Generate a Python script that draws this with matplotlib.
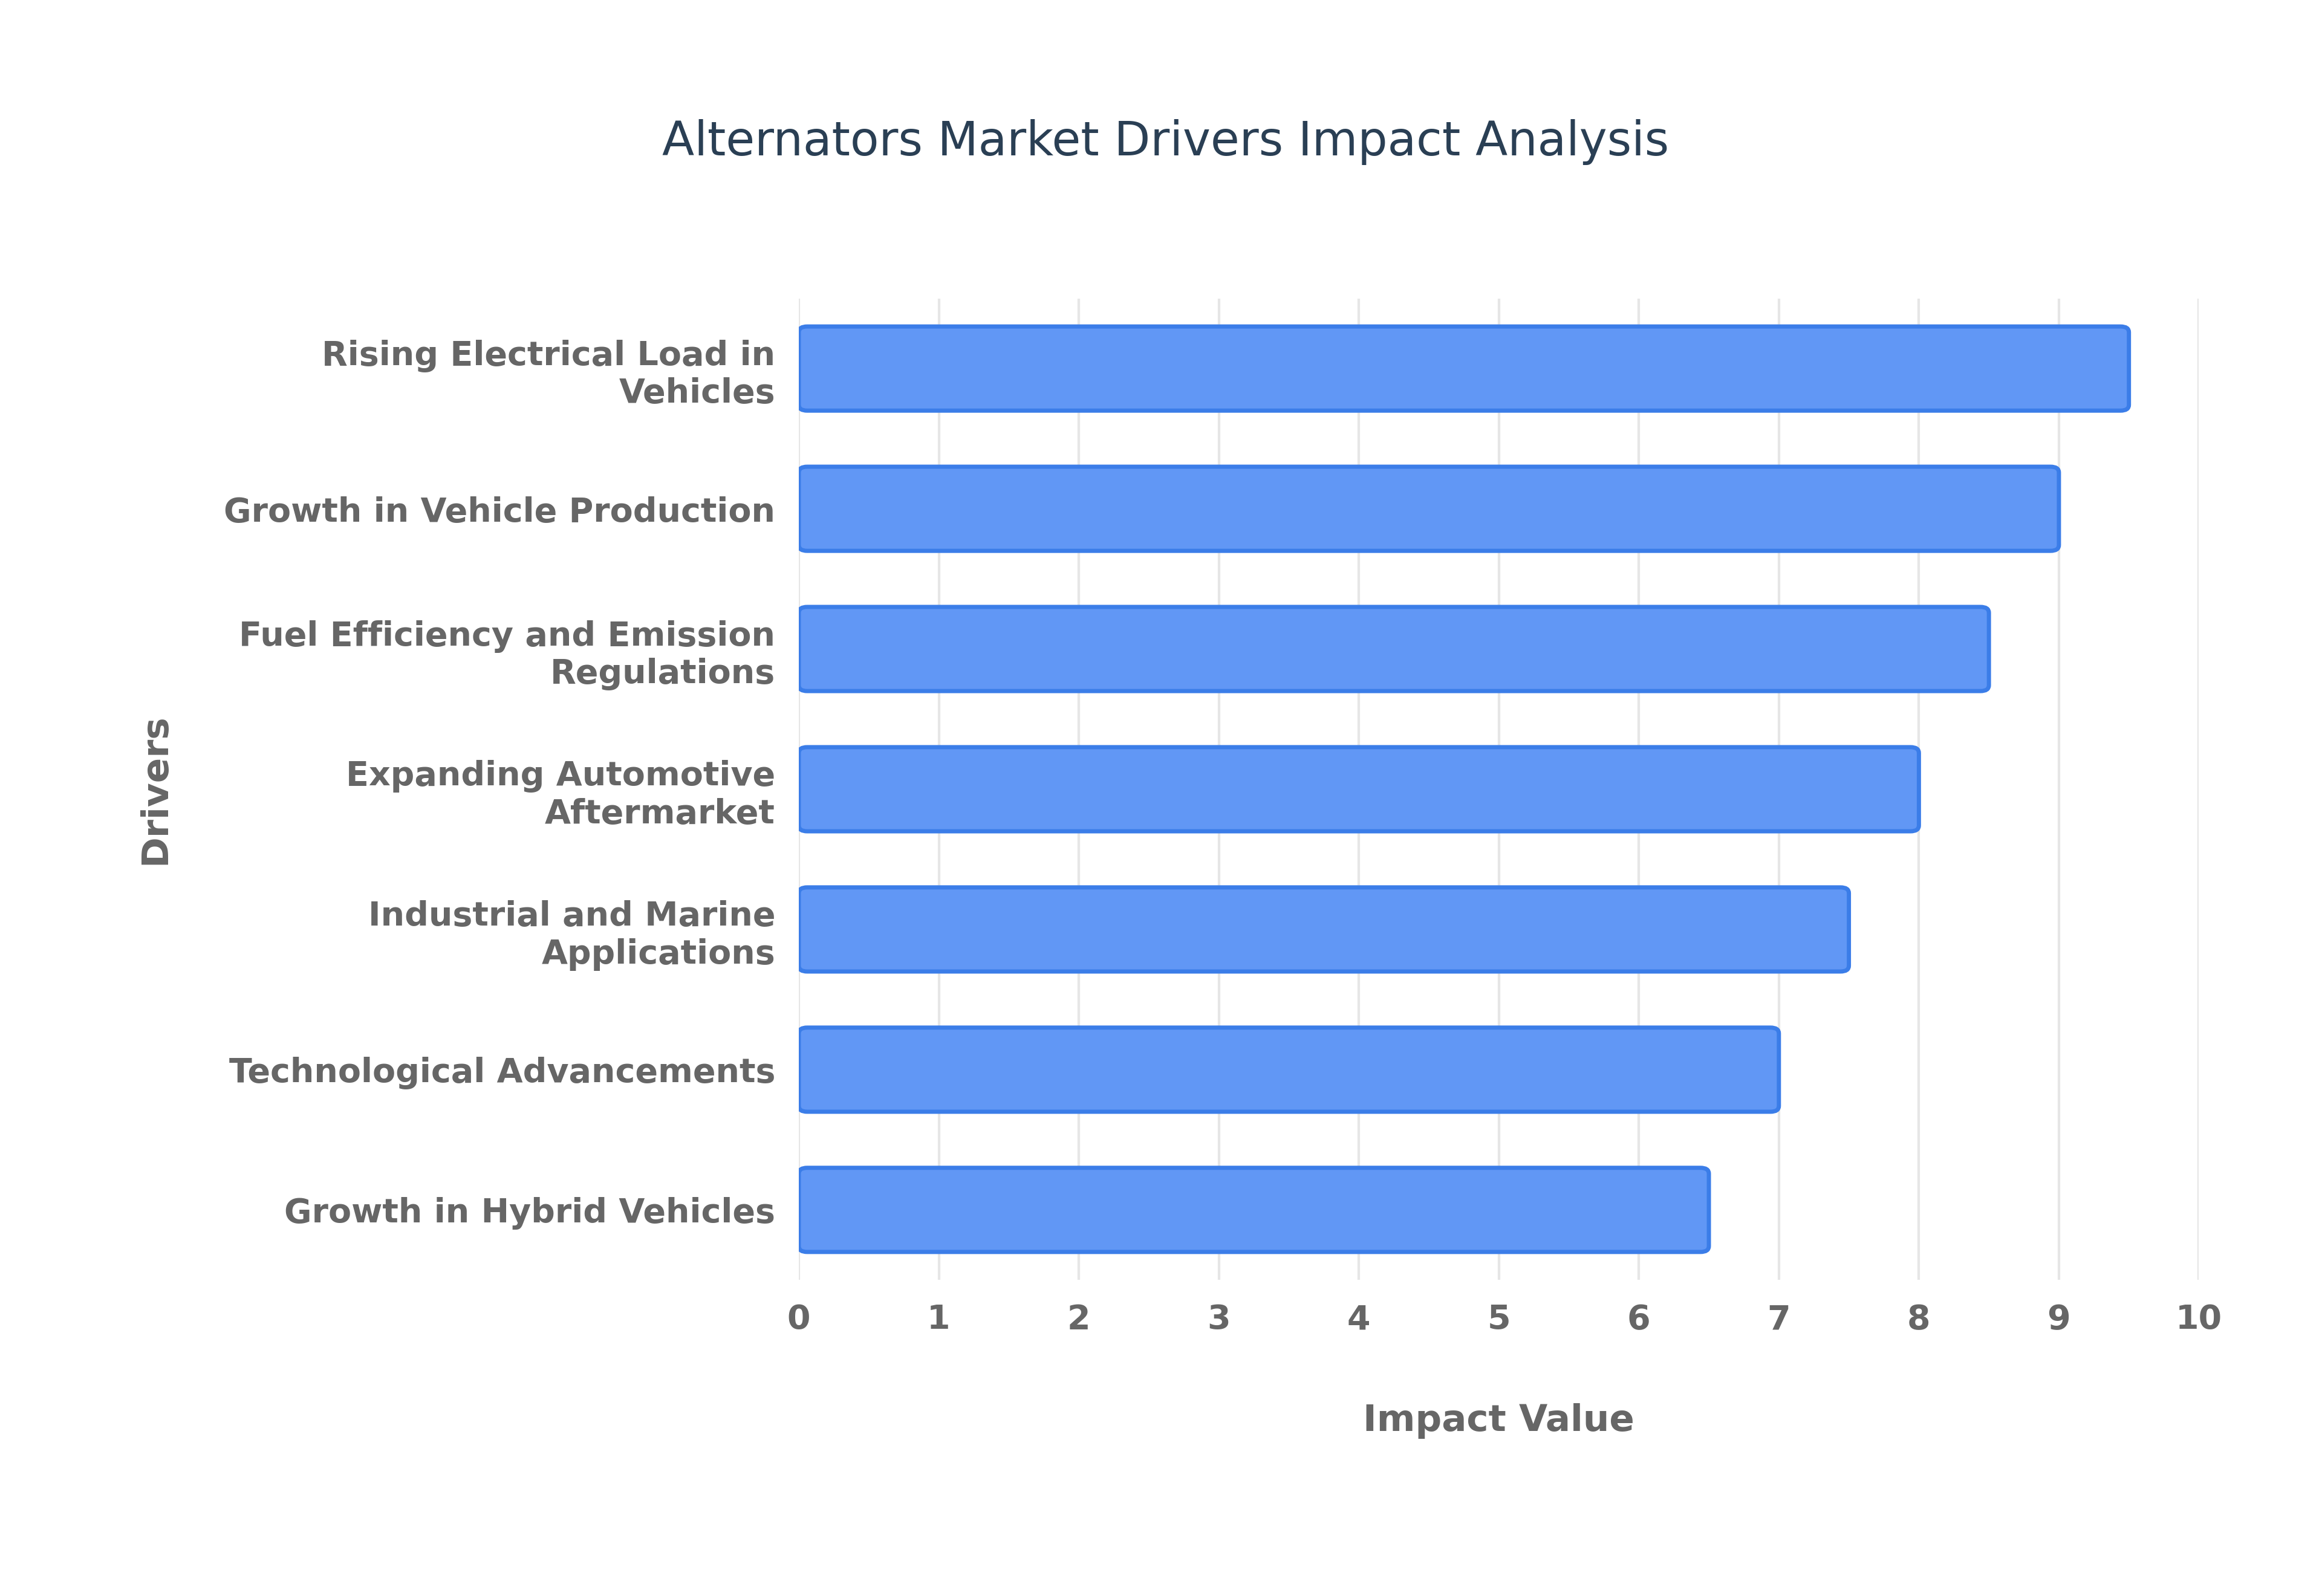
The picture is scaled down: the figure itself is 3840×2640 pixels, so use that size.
import matplotlib
matplotlib.use("Agg")
import matplotlib.pyplot as plt
from matplotlib.patches import FancyBboxPatch

drivers = ["Rising Electrical Load in\nVehicles", "Growth in Vehicle Production",
           "Fuel Efficiency and Emission\nRegulations", "Expanding Automotive\nAftermarket",
           "Industrial and Marine\nApplications", "Technological Advancements",
           "Growth in Hybrid Vehicles"]
values = [9.5, 9.0, 8.5, 8.0, 7.5, 7.0, 6.5]
xticks = list(range(0, 11))

fig = plt.figure(figsize=(19.2, 13.2), dpi=200)
ax = fig.add_axes([0.344, 0.198, 0.603, 0.615])
ys = list(range(len(drivers)))[::-1]
bars = ax.barh(ys, values, height=0.6, color="#6197f5", edgecolor="#3b7de8", linewidth=2.5)
for b in bars:
    b.set_visible(False)
    x, y, w, h = b.get_x(), b.get_y(), b.get_width(), b.get_height()
    ax.add_patch(FancyBboxPatch((x, y), w, h, boxstyle="round,pad=0,rounding_size=0.06",
                                mutation_aspect=1/ (10/6.9) , facecolor="#6197f5",
                                edgecolor="#3b7de8", linewidth=2.5, zorder=3))
ax.set_xlim(0, 10)
ax.set_ylim(-0.5, 6.5)
ax.set_xticks(xticks)
ax.set_yticks(ys)
ax.set_yticklabels(drivers)
for s in ax.spines.values():
    s.set_visible(False)
ax.grid(axis="x", color="#e6e6e6", linewidth=1.5, zorder=0)
ax.set_axisbelow(True)
ax.tick_params(length=0, pad=14, labelsize=20, labelcolor="#666666")
for t in ax.get_xticklabels() + ax.get_yticklabels():
    t.set_fontweight("bold")
ax.set_xlabel("Impact Value", fontsize=22, fontweight="bold", color="#666666", labelpad=40)
ax.set_ylabel("Drivers", fontsize=22, fontweight="bold", color="#666666", labelpad=30)
fig.text(0.502, 0.911, "Alternators Market Drivers Impact Analysis", ha="center", va="center",
         fontsize=28, color="#2a3f54")
fig.savefig("out.png", dpi=200)
